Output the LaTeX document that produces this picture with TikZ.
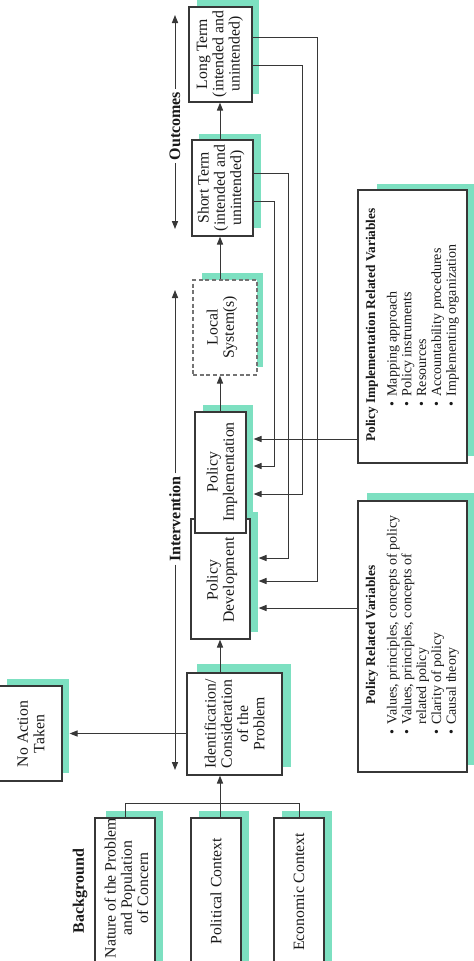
\documentclass[tikz,border=0pt]{standalone}
\usepackage{fontspec}
\setmainfont{Liberation Serif}
\usetikzlibrary{arrows.meta,fit}
\definecolor{mint}{RGB}{125,224,193}
\definecolor{ink}{RGB}{55,55,55}
\definecolor{txt}{RGB}{25,25,25}
\begin{document}
\begin{tikzpicture}[x=0.75pt,y=-0.75pt,
  box/.style={draw=ink, line width=0.9pt, fill=white, inner sep=0pt},
  dbox/.style={box, draw=black!55, dash pattern=on 3pt off 2pt},
  lbl/.style={rotate=90, align=center, text=txt, inner sep=0pt,
    font=\fontsize{11.8}{12.2}\selectfont},
  head/.style={rotate=90, text=txt, inner sep=2pt,
    font=\fontsize{12}{14}\selectfont\bfseries},
  ttl/.style={rotate=90, text=txt, inner sep=0pt,
    font=\fontsize{10}{12}\selectfont\bfseries},
  lst/.style={rotate=90, text=txt, inner sep=0pt, align=left,
    font=\fontsize{10.5}{11.1}\selectfont},
  conn/.style={draw=ink, line width=0.75pt},
  arr/.style={conn, -{Triangle[length=6pt,width=4.6pt]}},
  shade/.style={fill=mint}
]
\useasboundingbox (0,0) rectangle (474,961);

% ---------- shadows ----------
\fill[shade] (7,679) rectangle (69,773);      % no action
\fill[shade] (197,664) rectangle (291,767);   % identification
\fill[shade] (106,811) rectangle (163,980);   % nature
\fill[shade] (199,811) rectangle (249,980);   % political
\fill[shade] (282,811) rectangle (332,980);   % economic
\fill[shade] (203,405) rectangle (253,519);   % policy implementation
\fill[shade] (199,512) rectangle (258,632);   % policy development
\fill[shade] (202,273) rectangle (263,367);   % local systems
\fill[shade] (199,134) rectangle (261,228);   % short term
\fill[shade] (197,-5) rectangle (259,94);     % long term
\fill[shade] (377,184) rectangle (480,456);   % PIRV
\fill[shade] (367,493) rectangle (480,765);   % PRV

% ---------- boxes ----------
\node[box, fit={(-3,686)(62,781)}] (noact) {};
\node[box, fit={(187,673)(282,775)}] (ident) {};
\node[box, fit={(95,818)(155,980)}] (nature) {};
\node[box, fit={(191,818)(241,980)}] (pol) {};
\node[box, fit={(274,818)(324,980)}] (econ) {};
\node[box, fit={(191,519)(250,639)}] (pd) {};
\node[box, fit={(195,412)(246,533)}] (pi) {};
\node[dbox, fit={(193,280)(257,375)}] (local) {};
\node[box, fit={(192,140)(253,236)}] (short) {};
\node[box, fit={(189,7)(252,102)}] (long) {};
\node[box, fit={(358,190)(467,463)}] (pirv) {};
\node[box, fit={(358,501)(467,772)}] (prv) {};

% ---------- labels ----------
\node[lbl] (noact-t) at (31,734) {No Action\\Taken};
\node[lbl] (ident-t) at (234.5,724) {Identification/\\Consideration\\of the\\Problem};
\node[lbl] (nature-t) at (126.5,888) {Nature of the Problem\\and Population\\of Concern};
\node[lbl] (pol-t) at (216,891) {Political Context};
\node[lbl] (econ-t) at (299,892) {Economic Context};
\node[lbl] (pd-t) at (222,580) {Policy\\Development};
\node[lbl] (pi-t) at (222,472) {Policy\\Implementation};
\node[lbl] (local-t) at (222,327.5) {Local\\System(s)};
\node[lbl] (short-t) at (221,188) {Short Term\\(intended and\\unintended)};
\node[lbl] (long-t) at (220,54) {Long Term\\(intended and\\unintended)};

\node[head] (bg) at (80,891) {Background};
\node[head] (interv) at (175,519) {Intervention};
\node[head] (outc) at (175,126) {Outcomes};

\node[ttl] (pirv-t) at (372,325) {Policy Implementation Related Variables};
\node[ttl] (prv-t) at (372,635) {Policy Related Variables};

\node[lst, anchor=north west] (pirv-l) at (386,406.5) {%
\begin{tabular}{@{}l@{\hspace{3.6pt}}l@{}}
\textbullet & Mapping approach\\
\textbullet & Policy instruments\\
\textbullet & Resources\\
\textbullet & Accountability procedures\\
\textbullet & Implementing organization
\end{tabular}};

\node[lst, anchor=north west] (prv-l) at (386,734.5) {%
\begin{tabular}{@{}l@{\hspace{3.6pt}}l@{}}
\textbullet & Values, principles, concepts of policy\\
\textbullet & Values, principles, concepts of\\
 & related policy\\
\textbullet & Clarity of policy\\
\textbullet & Causal theory
\end{tabular}};

% ---------- helper coordinates ----------
\coordinate (spine) at (220,0);
\coordinate (pdedge) at ([xshift=6pt]pd.east);
\coordinate (piedge) at ([xshift=5.25pt]pi.east);
\coordinate (naedge) at ([xshift=5.25pt]noact.east);
\coordinate (intTop) at (175,290);
\coordinate (intBot) at (175,770);
\coordinate (outTop) at (175,15);
\coordinate (outBot) at (175,229);

% ---------- connectors ----------
% background bus
\draw[conn] (nature.north) -- (nature.north |- 0,803) -| (econ.north);
\draw[arr] (pol.north -| spine) -- (ident.south -| spine);
% main spine
\draw[arr] (ident.north -| spine) -- (pd.south -| spine);
\draw[arr] (pi.north -| spine) -- (local.south -| spine);
\draw[arr] (local.north -| spine) -- (short.south -| spine);
\draw[arr] (short.north -| spine) -- (long.south -| spine);
% no action
\draw[arr] (ident.west |- noact.east) -- (naedge);
% feedback loops
\draw[arr] (long.east |- 0,37) -- (317,37) -- (317,581) -- (pdedge |- 0,581);
\draw[arr] (long.east |- 0,65) -- (302,65) -- (302,494) -- (piedge |- 0,494);
\draw[arr] (short.east |- 0,173) -- (288,173) -- (288,558) -- (pdedge |- 0,558);
\draw[arr] (short.east |- 0,201) -- (274,201) -- (274,466) -- (piedge |- 0,466);
% variable boxes
\draw[arr] (pirv.west |- 0,439) -- (piedge |- 0,439);
\draw[arr] (prv.west |- 0,608) -- (pdedge |- 0,608);
% intervention / outcomes spans
\draw[arr] (interv.east) -- (intTop);
\draw[arr] (interv.west) -- (intBot);
\draw[arr] (outc.east) -- (outTop);
\draw[arr] (outc.west) -- (outBot);
\end{tikzpicture}
\end{document}
